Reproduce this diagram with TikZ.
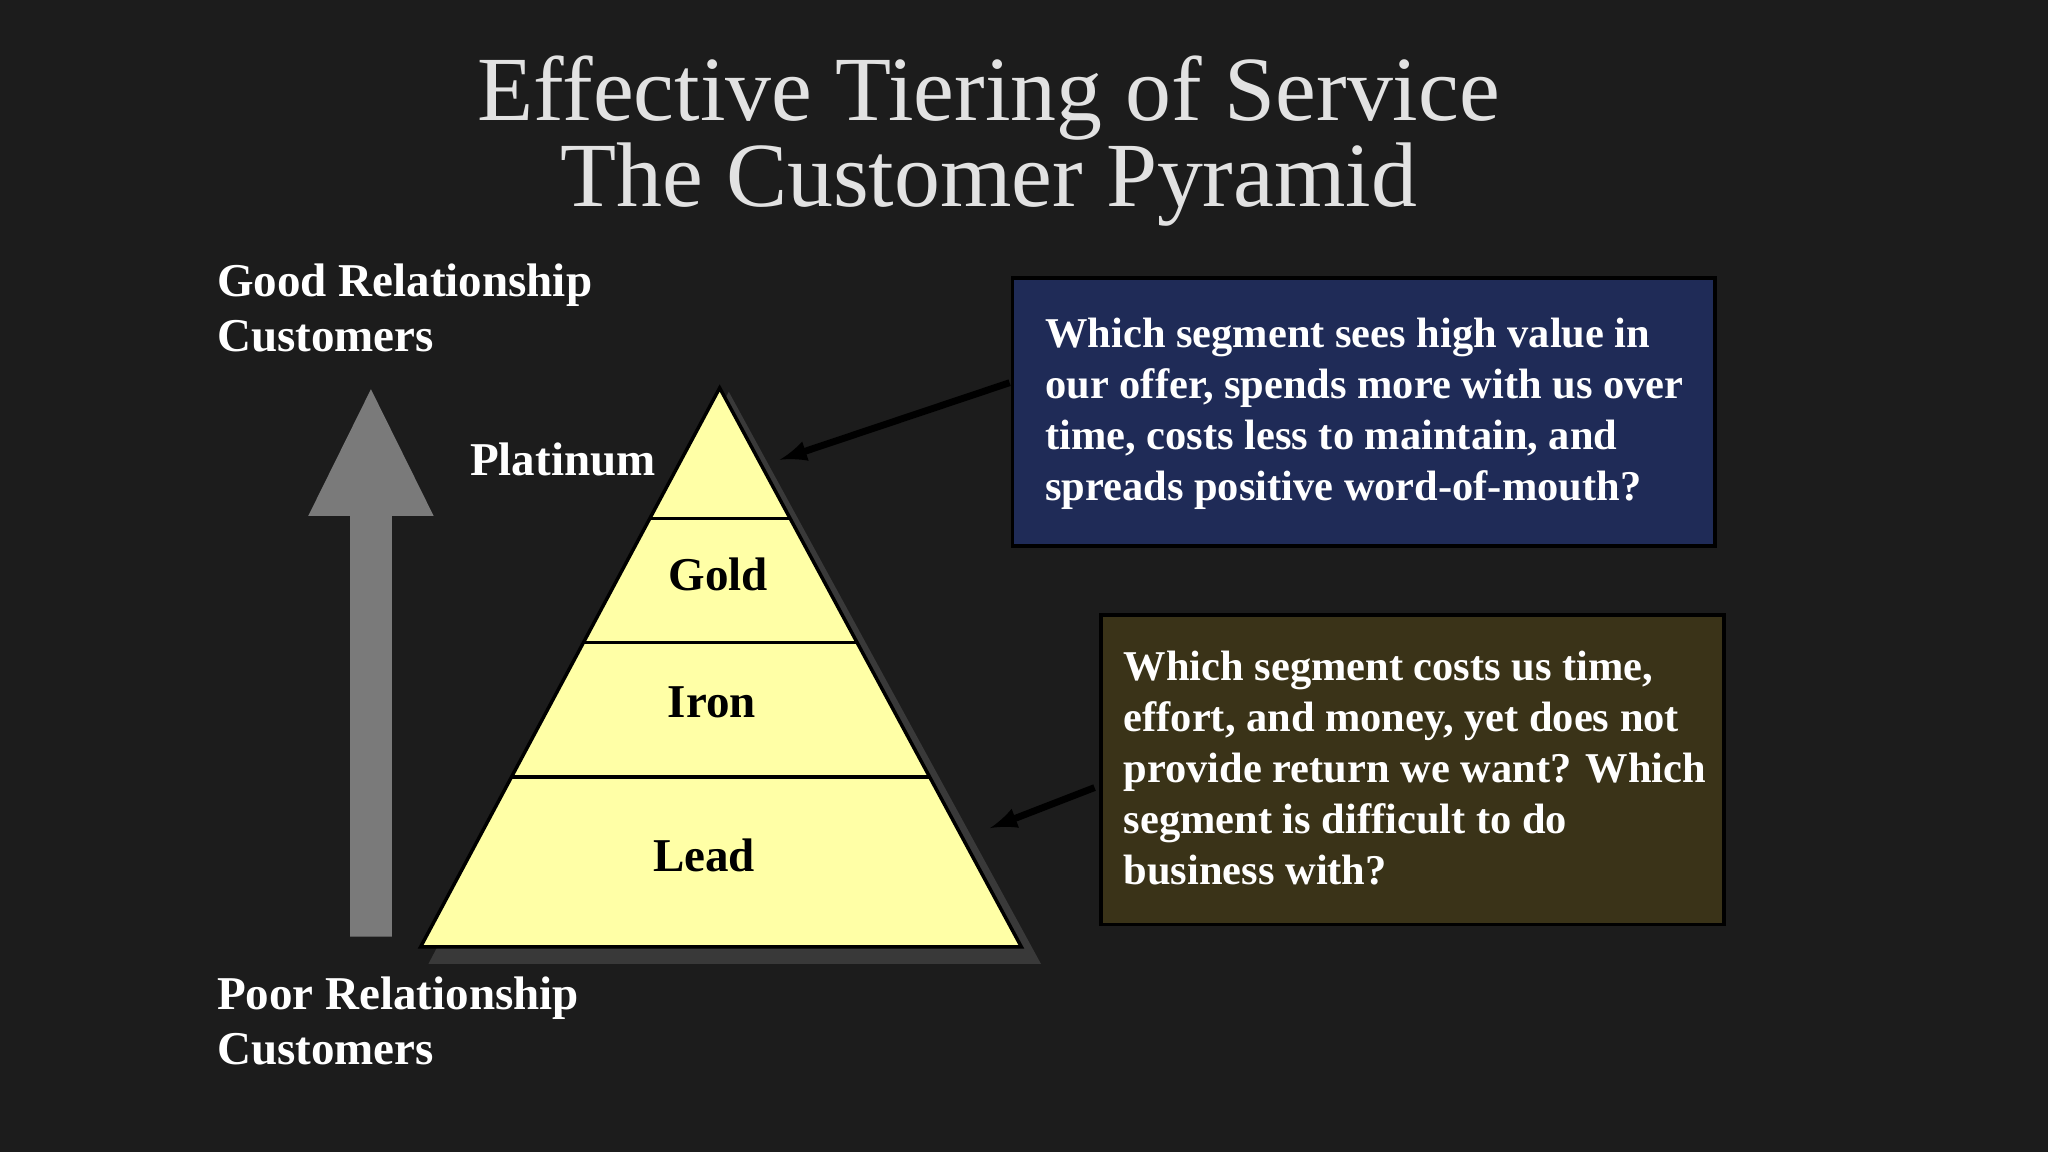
\documentclass[tikz,border=0pt]{standalone}
\usepackage{fontspec}
\setmainfont{Liberation Serif}
\usetikzlibrary{positioning}
\definecolor{bgdark}{HTML}{1C1C1C}
\definecolor{titlegray}{HTML}{E2E2E2}
\definecolor{tierfill}{HTML}{FFFFA6}
\definecolor{bluebox}{HTML}{1F2B57}
\definecolor{olivebox}{HTML}{3A3318}
\definecolor{arrowgray}{HTML}{7A7A7A}
\tikzset{
  side/.style={text=white, font=\fontsize{20.5}{24}\selectfont\bfseries, align=left, anchor=north west},
  tier/.style={font=\fontsize{20.5}{22}\selectfont\bfseries, text=black},
  question/.style={text=white, font=\fontsize{18.5}{22.2}\selectfont\bfseries, align=left, anchor=north west, inner sep=0pt},
  pointer/.style={-latex, line width=3pt, black}
}
\begin{document}
\begin{tikzpicture}[x=0.02cm, y=-0.02cm]
        % background
        \fill[bgdark] (0,0) rectangle (1568,882);
        \useasboundingbox (0,0) rectangle (1568,882);

        % title
        \node[text=titlegray, font=\fontsize{40}{37.4}\selectfont, align=center] (title) at (757,108) {Effective Tiering of Service\\The Customer Pyramid};

        % rising arrow
        \fill[arrowgray] (268,717) -- (268,395) -- (236,395) -- (284,298) -- (332,395) -- (300,395) -- (300,717) -- cycle;
        \node[side] (good) at (160,196) {Good Relationship\\Customers};
        \node[side] (poor) at (160,742) {Poor Relationship\\Customers};

        % pyramid with shadow
        \fill[black!55!gray] (558,300) -- (797,738) -- (328,738) -- cycle;
        \draw[fill=tierfill, line width=1.5pt] (551,297) -- (782,725) -- (322,725) -- cycle;
        \draw[line width=1.5pt] (497,397) -- (605,397);
        \draw[line width=1.5pt] (446,492) -- (656,492);
        \draw[line width=1.5pt] (391,595) -- (711,595);
        \coordinate (apex) at (597,352);
        \coordinate (base) at (758,634);

        % tier names
        \node[side, anchor=center] (platinum) at (431,352) {Platinum};
        \node[tier] (gold) at (550,440) {Gold};
        \node[tier] (iron) at (545,538) {Iron};
        \node[tier] (lead) at (539,655) {Lead};

        % questions
        \fill[bluebox] (775,213) rectangle (1313,418);
        \draw[line width=1.5pt] (775,213) rectangle (1313,418);
        \node[question] (high) at (800,243) {Which segment sees high value in\\our offer, spends more with us over\\time, costs less to maintain, and\\spreads positive word-of-mouth?};
        \fill[olivebox] (843,471) rectangle (1320,708);
        \draw[line width=1.5pt] (843,471) rectangle (1320,708);
        \node[question] (low) at (860,498) {Which segment costs us time,\\effort, and money, yet does not\\provide return we want? Which\\segment is difficult to do\\business with?};

        \draw[pointer] (773,293) -- (apex);
        \draw[pointer] (838,603) -- (base);
\end{tikzpicture}
\end{document}
